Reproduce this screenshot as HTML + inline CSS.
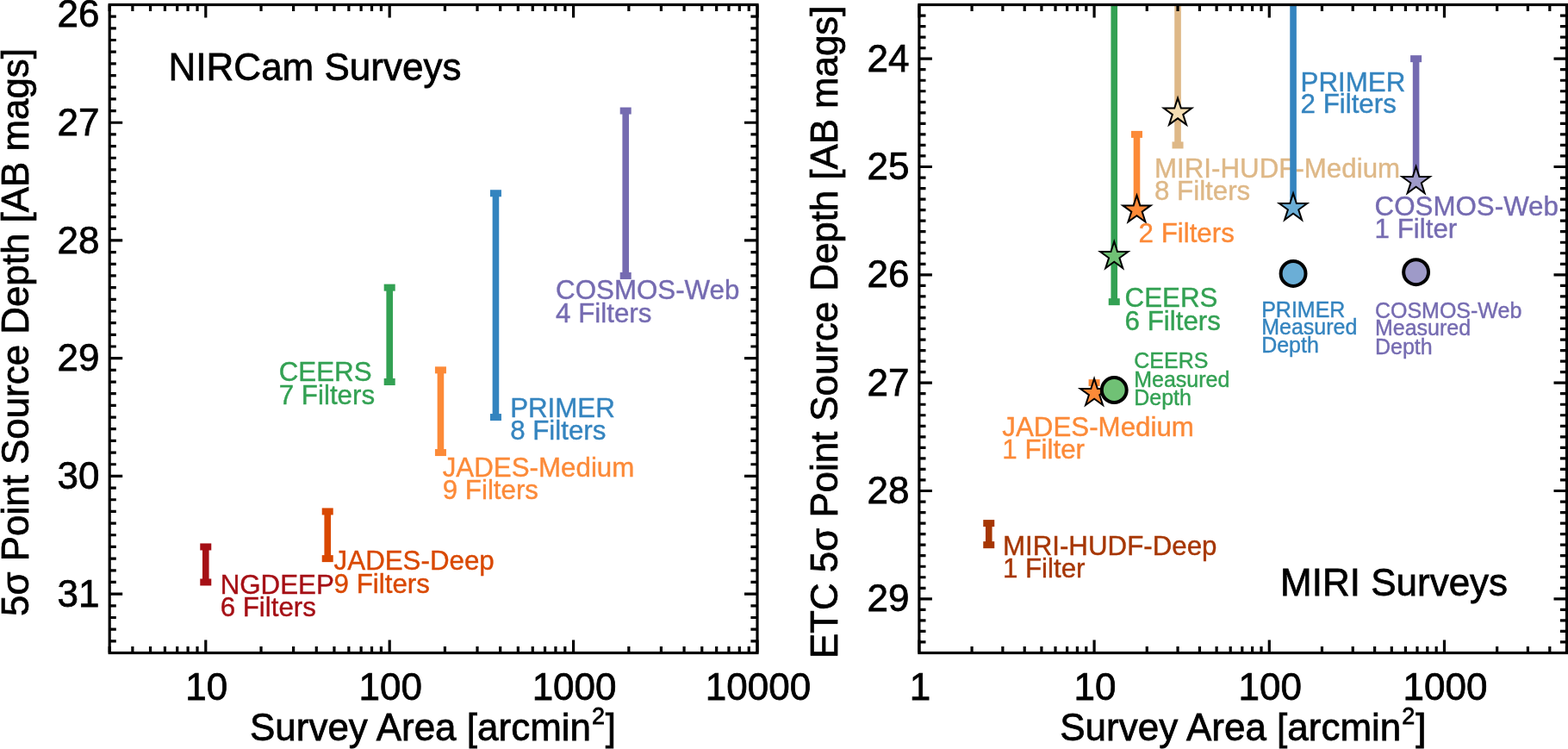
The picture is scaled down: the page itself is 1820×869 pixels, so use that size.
<!DOCTYPE html>
<html lang="en">
<head>
<meta charset="utf-8">
<title>NIRCam and MIRI Surveys</title>
<style>html,body{margin:0;padding:0;background:#fff;overflow:hidden}svg{display:block}</style>
</head>
<body>
<svg width="1820" height="869" viewBox="0 0 1820 869" font-family='"Liberation Sans", "DejaVu Sans", sans-serif'>
<rect width="1820" height="869" fill="#fff"/>
<rect x="234.98" y="634.45" width="7.6" height="41.02" fill="#a50f15"/>
<rect x="232.28" y="630.45" width="13.0" height="8.0" fill="#a50f15"/>
<rect x="232.28" y="671.46" width="13.0" height="8.0" fill="#a50f15"/>
<rect x="376.42" y="593.43" width="7.6" height="54.69" fill="#d94801"/>
<rect x="373.72" y="589.43" width="13.0" height="8.0" fill="#d94801"/>
<rect x="373.72" y="644.12" width="13.0" height="8.0" fill="#d94801"/>
<rect x="448.39" y="333.65" width="7.6" height="109.38" fill="#33a153"/>
<rect x="445.69" y="329.65" width="13.0" height="8.0" fill="#33a153"/>
<rect x="445.69" y="439.03" width="13.0" height="8.0" fill="#33a153"/>
<rect x="507.63" y="429.35" width="7.6" height="95.71" fill="#fc8a38"/>
<rect x="504.93" y="425.35" width="13.0" height="8.0" fill="#fc8a38"/>
<rect x="504.93" y="521.06" width="13.0" height="8.0" fill="#fc8a38"/>
<rect x="571.63" y="224.26" width="7.6" height="259.78" fill="#3484bf"/>
<rect x="568.93" y="220.26" width="13.0" height="8.0" fill="#3484bf"/>
<rect x="568.93" y="480.05" width="13.0" height="8.0" fill="#3484bf"/>
<rect x="722.40" y="128.55" width="7.6" height="191.42" fill="#756bb1"/>
<rect x="719.70" y="124.55" width="13.0" height="8.0" fill="#756bb1"/>
<rect x="719.70" y="315.97" width="13.0" height="8.0" fill="#756bb1"/>
<path d="M127.20 5.50v7.6M127.20 757.50v-7.6M153.86 5.50v7.6M153.86 757.50v-7.6M174.54 5.50v7.6M174.54 757.50v-7.6M191.44 5.50v7.6M191.44 757.50v-7.6M205.73 5.50v7.6M205.73 757.50v-7.6M218.10 5.50v7.6M218.10 757.50v-7.6M229.02 5.50v7.6M229.02 757.50v-7.6M238.78 5.50v15.0M238.78 757.50v-15.0M303.03 5.50v7.6M303.03 757.50v-7.6M340.61 5.50v7.6M340.61 757.50v-7.6M367.27 5.50v7.6M367.27 757.50v-7.6M387.95 5.50v7.6M387.95 757.50v-7.6M404.85 5.50v7.6M404.85 757.50v-7.6M419.13 5.50v7.6M419.13 757.50v-7.6M431.51 5.50v7.6M431.51 757.50v-7.6M442.43 5.50v7.6M442.43 757.50v-7.6M452.19 5.50v15.0M452.19 757.50v-15.0M516.43 5.50v7.6M516.43 757.50v-7.6M554.01 5.50v7.6M554.01 757.50v-7.6M580.67 5.50v7.6M580.67 757.50v-7.6M601.35 5.50v7.6M601.35 757.50v-7.6M618.25 5.50v7.6M618.25 757.50v-7.6M632.54 5.50v7.6M632.54 757.50v-7.6M644.91 5.50v7.6M644.91 757.50v-7.6M655.83 5.50v7.6M655.83 757.50v-7.6M665.59 5.50v15.0M665.59 757.50v-15.0M729.84 5.50v7.6M729.84 757.50v-7.6M767.42 5.50v7.6M767.42 757.50v-7.6M794.08 5.50v7.6M794.08 757.50v-7.6M814.76 5.50v7.6M814.76 757.50v-7.6M831.66 5.50v7.6M831.66 757.50v-7.6M845.94 5.50v7.6M845.94 757.50v-7.6M858.32 5.50v7.6M858.32 757.50v-7.6M869.24 5.50v7.6M869.24 757.50v-7.6M879.00 5.50v15.0M879.00 757.50v-15.0M127.20 5.50h15.0M879.00 5.50h-15.0M127.20 19.17h7.6M879.00 19.17h-7.6M127.20 32.85h7.6M879.00 32.85h-7.6M127.20 46.52h7.6M879.00 46.52h-7.6M127.20 60.19h7.6M879.00 60.19h-7.6M127.20 73.86h7.6M879.00 73.86h-7.6M127.20 87.54h7.6M879.00 87.54h-7.6M127.20 101.21h7.6M879.00 101.21h-7.6M127.20 114.88h7.6M879.00 114.88h-7.6M127.20 128.55h7.6M879.00 128.55h-7.6M127.20 142.23h15.0M879.00 142.23h-15.0M127.20 155.90h7.6M879.00 155.90h-7.6M127.20 169.57h7.6M879.00 169.57h-7.6M127.20 183.25h7.6M879.00 183.25h-7.6M127.20 196.92h7.6M879.00 196.92h-7.6M127.20 210.59h7.6M879.00 210.59h-7.6M127.20 224.26h7.6M879.00 224.26h-7.6M127.20 237.94h7.6M879.00 237.94h-7.6M127.20 251.61h7.6M879.00 251.61h-7.6M127.20 265.28h7.6M879.00 265.28h-7.6M127.20 278.95h15.0M879.00 278.95h-15.0M127.20 292.63h7.6M879.00 292.63h-7.6M127.20 306.30h7.6M879.00 306.30h-7.6M127.20 319.97h7.6M879.00 319.97h-7.6M127.20 333.65h7.6M879.00 333.65h-7.6M127.20 347.32h7.6M879.00 347.32h-7.6M127.20 360.99h7.6M879.00 360.99h-7.6M127.20 374.66h7.6M879.00 374.66h-7.6M127.20 388.34h7.6M879.00 388.34h-7.6M127.20 402.01h7.6M879.00 402.01h-7.6M127.20 415.68h15.0M879.00 415.68h-15.0M127.20 429.35h7.6M879.00 429.35h-7.6M127.20 443.03h7.6M879.00 443.03h-7.6M127.20 456.70h7.6M879.00 456.70h-7.6M127.20 470.37h7.6M879.00 470.37h-7.6M127.20 484.05h7.6M879.00 484.05h-7.6M127.20 497.72h7.6M879.00 497.72h-7.6M127.20 511.39h7.6M879.00 511.39h-7.6M127.20 525.06h7.6M879.00 525.06h-7.6M127.20 538.74h7.6M879.00 538.74h-7.6M127.20 552.41h15.0M879.00 552.41h-15.0M127.20 566.08h7.6M879.00 566.08h-7.6M127.20 579.75h7.6M879.00 579.75h-7.6M127.20 593.43h7.6M879.00 593.43h-7.6M127.20 607.10h7.6M879.00 607.10h-7.6M127.20 620.77h7.6M879.00 620.77h-7.6M127.20 634.45h7.6M879.00 634.45h-7.6M127.20 648.12h7.6M879.00 648.12h-7.6M127.20 661.79h7.6M879.00 661.79h-7.6M127.20 675.46h7.6M879.00 675.46h-7.6M127.20 689.14h15.0M879.00 689.14h-15.0M127.20 702.81h7.6M879.00 702.81h-7.6M127.20 716.48h7.6M879.00 716.48h-7.6M127.20 730.15h7.6M879.00 730.15h-7.6M127.20 743.83h7.6M879.00 743.83h-7.6M127.20 757.50h7.6M879.00 757.50h-7.6" fill="none" stroke="#000" stroke-width="3.2"/>
<rect x="127.20" y="5.50" width="751.80" height="752.00" fill="none" stroke="#000" stroke-width="3.2"/>
<text transform="translate(195.59 92.80) scale(1 1.015)" font-size="44" fill="#000" stroke="#000" stroke-width="0.75" text-anchor="start">NIRCam Surveys</text>
<text transform="translate(255.63 689.00) scale(1 1.02)" font-size="31.3" fill="#a50f15" stroke="#a50f15" stroke-width="0.4" text-anchor="start">NGDEEP</text>
<text transform="translate(255.63 715.40) scale(1 1.02)" font-size="31.3" fill="#a50f15" stroke="#a50f15" stroke-width="0.4" text-anchor="start">6 Filters</text>
<text transform="translate(387.61 661.40) scale(1 1.02)" font-size="31.3" fill="#d94801" stroke="#d94801" stroke-width="0.4" text-anchor="start">JADES-Deep</text>
<text transform="translate(387.61 687.80) scale(1 1.02)" font-size="31.3" fill="#d94801" stroke="#d94801" stroke-width="0.4" text-anchor="start">9 Filters</text>
<text transform="translate(323.76 442.20) scale(1 1.02)" font-size="31.3" fill="#33a153" stroke="#33a153" stroke-width="0.4" text-anchor="start">CEERS</text>
<text transform="translate(323.76 468.65) scale(1 1.02)" font-size="31.3" fill="#33a153" stroke="#33a153" stroke-width="0.4" text-anchor="start">7 Filters</text>
<text transform="translate(513.71 552.85) scale(1 1.02)" font-size="31.3" fill="#fc8a38" stroke="#fc8a38" stroke-width="0.4" text-anchor="start">JADES-Medium</text>
<text transform="translate(513.71 578.85) scale(1 1.02)" font-size="31.3" fill="#fc8a38" stroke="#fc8a38" stroke-width="0.4" text-anchor="start">9 Filters</text>
<text transform="translate(592.13 483.70) scale(1 1.02)" font-size="31.3" fill="#3484bf" stroke="#3484bf" stroke-width="0.4" text-anchor="start">PRIMER</text>
<text transform="translate(592.13 510.00) scale(1 1.02)" font-size="31.3" fill="#3484bf" stroke="#3484bf" stroke-width="0.4" text-anchor="start">8 Filters</text>
<text transform="translate(645.06 347.30) scale(1 1.02)" font-size="31.3" fill="#756bb1" stroke="#756bb1" stroke-width="0.4" text-anchor="start">COSMOS-Web</text>
<text transform="translate(645.06 373.50) scale(1 1.02)" font-size="31.3" fill="#756bb1" stroke="#756bb1" stroke-width="0.4" text-anchor="start">4 Filters</text>
<text transform="translate(115.50 31.00) scale(1 1)" font-size="44" fill="#000" stroke="#000" stroke-width="0.75" text-anchor="end">26</text>
<text transform="translate(115.50 156.83) scale(1 1)" font-size="44" fill="#000" stroke="#000" stroke-width="0.75" text-anchor="end">27</text>
<text transform="translate(115.50 293.55) scale(1 1)" font-size="44" fill="#000" stroke="#000" stroke-width="0.75" text-anchor="end">28</text>
<text transform="translate(115.50 430.28) scale(1 1)" font-size="44" fill="#000" stroke="#000" stroke-width="0.75" text-anchor="end">29</text>
<text transform="translate(115.50 567.01) scale(1 1)" font-size="44" fill="#000" stroke="#000" stroke-width="0.75" text-anchor="end">30</text>
<text transform="translate(115.50 703.74) scale(1 1)" font-size="44" fill="#000" stroke="#000" stroke-width="0.75" text-anchor="end">31</text>
<text transform="translate(239.78 812.40) scale(1 1)" font-size="44" fill="#000" stroke="#000" stroke-width="0.75" text-anchor="middle">10</text>
<text transform="translate(453.19 812.40) scale(1 1)" font-size="44" fill="#000" stroke="#000" stroke-width="0.75" text-anchor="middle">100</text>
<text transform="translate(666.59 812.40) scale(1 1)" font-size="44" fill="#000" stroke="#000" stroke-width="0.75" text-anchor="middle">1000</text>
<text transform="translate(880.00 812.40) scale(1 1)" font-size="44" fill="#000" stroke="#000" stroke-width="0.75" text-anchor="middle">10000</text>
<text transform="translate(502.5 859.0) scale(1 1.015)" font-size="44" stroke="#000" stroke-width="0.75" text-anchor="middle">Survey Area [arcmin<tspan font-size="27" dx="1" dy="-18.6">2</tspan><tspan dx="0.8" dy="18.6">]</tspan></text>
<text transform="translate(32.5 385.45) rotate(-90) scale(0.9977 1.015)" font-size="44" stroke="#000" stroke-width="0.75" text-anchor="middle">5σ Point Source Depth [AB mags]</text>
<text transform="translate(1339.98 205.80) scale(1 1.02)" font-size="31.3" fill="#deb887" stroke="#deb887" stroke-width="0.4" text-anchor="start">MIRI-HUDF-Medium</text>
<text transform="translate(1339.98 232.10) scale(1 1.02)" font-size="31.3" fill="#deb887" stroke="#deb887" stroke-width="0.4" text-anchor="start">8 Filters</text>
<rect x="1289.44" y="5.50" width="7.6" height="344.67" fill="#33a153"/>
<rect x="1286.74" y="346.17" width="13.0" height="8.0" fill="#33a153"/>
<rect x="1315.68" y="155.90" width="7.6" height="87.73" fill="#fc8a38"/>
<rect x="1312.98" y="151.90" width="13.0" height="8.0" fill="#fc8a38"/>
<rect x="1312.98" y="239.63" width="13.0" height="8.0" fill="#fc8a38"/>
<rect x="1363.24" y="5.50" width="7.6" height="162.93" fill="#deb887"/>
<rect x="1360.54" y="164.43" width="13.0" height="8.0" fill="#deb887"/>
<rect x="1497.26" y="5.50" width="7.6" height="235.63" fill="#3484bf"/>
<rect x="1639.80" y="68.17" width="7.6" height="144.13" fill="#756bb1"/>
<rect x="1637.10" y="64.17" width="13.0" height="8.0" fill="#756bb1"/>
<rect x="1266.29" y="444.17" width="7.6" height="12.53" fill="#fc8a38"/>
<rect x="1263.59" y="440.17" width="13.0" height="8.0" fill="#fc8a38"/>
<rect x="1263.59" y="452.70" width="13.0" height="8.0" fill="#fc8a38"/>
<rect x="1143.96" y="607.10" width="7.6" height="25.07" fill="#a63603"/>
<rect x="1141.26" y="603.10" width="13.0" height="8.0" fill="#a63603"/>
<rect x="1141.26" y="628.17" width="13.0" height="8.0" fill="#a63603"/>
<path d="M1066.90 5.50v15.0M1066.90 757.50v-15.0M1128.07 5.50v7.6M1128.07 757.50v-7.6M1163.85 5.50v7.6M1163.85 757.50v-7.6M1189.23 5.50v7.6M1189.23 757.50v-7.6M1208.92 5.50v7.6M1208.92 757.50v-7.6M1225.01 5.50v7.6M1225.01 757.50v-7.6M1238.62 5.50v7.6M1238.62 757.50v-7.6M1250.40 5.50v7.6M1250.40 757.50v-7.6M1260.79 5.50v7.6M1260.79 757.50v-7.6M1270.09 5.50v15.0M1270.09 757.50v-15.0M1331.26 5.50v7.6M1331.26 757.50v-7.6M1367.04 5.50v7.6M1367.04 757.50v-7.6M1392.43 5.50v7.6M1392.43 757.50v-7.6M1412.12 5.50v7.6M1412.12 757.50v-7.6M1428.21 5.50v7.6M1428.21 757.50v-7.6M1441.81 5.50v7.6M1441.81 757.50v-7.6M1453.59 5.50v7.6M1453.59 757.50v-7.6M1463.99 5.50v7.6M1463.99 757.50v-7.6M1473.28 5.50v15.0M1473.28 757.50v-15.0M1534.45 5.50v7.6M1534.45 757.50v-7.6M1570.23 5.50v7.6M1570.23 757.50v-7.6M1595.62 5.50v7.6M1595.62 757.50v-7.6M1615.31 5.50v7.6M1615.31 757.50v-7.6M1631.40 5.50v7.6M1631.40 757.50v-7.6M1645.00 5.50v7.6M1645.00 757.50v-7.6M1656.78 5.50v7.6M1656.78 757.50v-7.6M1667.18 5.50v7.6M1667.18 757.50v-7.6M1676.48 5.50v15.0M1676.48 757.50v-15.0M1737.64 5.50v7.6M1737.64 757.50v-7.6M1773.42 5.50v7.6M1773.42 757.50v-7.6M1798.81 5.50v7.6M1798.81 757.50v-7.6M1818.50 5.50v7.6M1818.50 757.50v-7.6M1066.90 5.50h7.6M1818.50 5.50h-7.6M1066.90 18.03h7.6M1818.50 18.03h-7.6M1066.90 30.57h7.6M1818.50 30.57h-7.6M1066.90 43.10h7.6M1818.50 43.10h-7.6M1066.90 55.63h7.6M1818.50 55.63h-7.6M1066.90 68.17h15.0M1818.50 68.17h-15.0M1066.90 80.70h7.6M1818.50 80.70h-7.6M1066.90 93.23h7.6M1818.50 93.23h-7.6M1066.90 105.77h7.6M1818.50 105.77h-7.6M1066.90 118.30h7.6M1818.50 118.30h-7.6M1066.90 130.83h7.6M1818.50 130.83h-7.6M1066.90 143.37h7.6M1818.50 143.37h-7.6M1066.90 155.90h7.6M1818.50 155.90h-7.6M1066.90 168.43h7.6M1818.50 168.43h-7.6M1066.90 180.97h7.6M1818.50 180.97h-7.6M1066.90 193.50h15.0M1818.50 193.50h-15.0M1066.90 206.03h7.6M1818.50 206.03h-7.6M1066.90 218.57h7.6M1818.50 218.57h-7.6M1066.90 231.10h7.6M1818.50 231.10h-7.6M1066.90 243.63h7.6M1818.50 243.63h-7.6M1066.90 256.17h7.6M1818.50 256.17h-7.6M1066.90 268.70h7.6M1818.50 268.70h-7.6M1066.90 281.23h7.6M1818.50 281.23h-7.6M1066.90 293.77h7.6M1818.50 293.77h-7.6M1066.90 306.30h7.6M1818.50 306.30h-7.6M1066.90 318.83h15.0M1818.50 318.83h-15.0M1066.90 331.37h7.6M1818.50 331.37h-7.6M1066.90 343.90h7.6M1818.50 343.90h-7.6M1066.90 356.43h7.6M1818.50 356.43h-7.6M1066.90 368.97h7.6M1818.50 368.97h-7.6M1066.90 381.50h7.6M1818.50 381.50h-7.6M1066.90 394.03h7.6M1818.50 394.03h-7.6M1066.90 406.57h7.6M1818.50 406.57h-7.6M1066.90 419.10h7.6M1818.50 419.10h-7.6M1066.90 431.63h7.6M1818.50 431.63h-7.6M1066.90 444.17h15.0M1818.50 444.17h-15.0M1066.90 456.70h7.6M1818.50 456.70h-7.6M1066.90 469.23h7.6M1818.50 469.23h-7.6M1066.90 481.77h7.6M1818.50 481.77h-7.6M1066.90 494.30h7.6M1818.50 494.30h-7.6M1066.90 506.83h7.6M1818.50 506.83h-7.6M1066.90 519.37h7.6M1818.50 519.37h-7.6M1066.90 531.90h7.6M1818.50 531.90h-7.6M1066.90 544.43h7.6M1818.50 544.43h-7.6M1066.90 556.97h7.6M1818.50 556.97h-7.6M1066.90 569.50h15.0M1818.50 569.50h-15.0M1066.90 582.03h7.6M1818.50 582.03h-7.6M1066.90 594.57h7.6M1818.50 594.57h-7.6M1066.90 607.10h7.6M1818.50 607.10h-7.6M1066.90 619.63h7.6M1818.50 619.63h-7.6M1066.90 632.17h7.6M1818.50 632.17h-7.6M1066.90 644.70h7.6M1818.50 644.70h-7.6M1066.90 657.23h7.6M1818.50 657.23h-7.6M1066.90 669.77h7.6M1818.50 669.77h-7.6M1066.90 682.30h7.6M1818.50 682.30h-7.6M1066.90 694.83h15.0M1818.50 694.83h-15.0M1066.90 707.37h7.6M1818.50 707.37h-7.6M1066.90 719.90h7.6M1818.50 719.90h-7.6M1066.90 732.43h7.6M1818.50 732.43h-7.6M1066.90 744.97h7.6M1818.50 744.97h-7.6M1066.90 757.50h7.6M1818.50 757.50h-7.6" fill="none" stroke="#000" stroke-width="3.2"/>
<rect x="1066.90" y="5.50" width="751.60" height="752.00" fill="none" stroke="#000" stroke-width="3.2"/>
<polygon points="1293.24,280.28 1297.06,292.02 1309.41,292.02 1299.42,299.28 1303.24,311.03 1293.24,303.77 1283.25,311.03 1287.07,299.28 1277.08,292.02 1289.43,292.02" fill="#70c175" stroke="#000" stroke-width="2.0" stroke-linejoin="miter" stroke-miterlimit="10"/>
<polygon points="1319.48,226.63 1323.29,238.38 1335.64,238.38 1325.65,245.64 1329.47,257.39 1319.48,250.13 1309.48,257.39 1313.30,245.64 1303.31,238.38 1315.66,238.38" fill="#fc8a38" stroke="#000" stroke-width="2.0" stroke-linejoin="miter" stroke-miterlimit="10"/>
<polygon points="1367.04,113.83 1370.86,125.58 1383.21,125.58 1373.21,132.84 1377.03,144.59 1367.04,137.33 1357.05,144.59 1360.86,132.84 1350.87,125.58 1363.22,125.58" fill="#f5deb3" stroke="#000" stroke-width="2.0" stroke-linejoin="miter" stroke-miterlimit="10"/>
<polygon points="1501.06,224.25 1504.88,236.00 1517.23,236.00 1507.24,243.26 1511.06,255.01 1501.06,247.75 1491.07,255.01 1494.89,243.26 1484.90,236.00 1497.25,236.00" fill="#6baed6" stroke="#000" stroke-width="2.0" stroke-linejoin="miter" stroke-miterlimit="10"/>
<polygon points="1643.60,193.29 1647.42,205.04 1659.77,205.04 1649.78,212.30 1653.59,224.05 1643.60,216.79 1633.61,224.05 1637.43,212.30 1627.43,205.04 1639.79,205.04" fill="#9e9ac8" stroke="#000" stroke-width="2.0" stroke-linejoin="miter" stroke-miterlimit="10"/>
<polygon points="1270.09,439.20 1273.91,450.95 1286.26,450.95 1276.27,458.21 1280.08,469.95 1270.09,462.69 1260.10,469.95 1263.92,458.21 1253.92,450.95 1266.27,450.95" fill="#fc8a38" stroke="#000" stroke-width="2.0" stroke-linejoin="miter" stroke-miterlimit="10"/>
<circle cx="1293.24" cy="452.56" r="14.45" fill="#70c175" stroke="#000" stroke-width="4.0"/>
<circle cx="1501.06" cy="317.45" r="14.45" fill="#6baed6" stroke="#000" stroke-width="4.0"/>
<circle cx="1643.60" cy="315.70" r="14.45" fill="#9e9ac8" stroke="#000" stroke-width="4.0"/>
<text transform="translate(1509.53 105.55) scale(1 1.02)" font-size="31.3" fill="#3484bf" stroke="#3484bf" stroke-width="0.4" text-anchor="start">PRIMER</text>
<text transform="translate(1509.53 131.20) scale(1 1.02)" font-size="31.3" fill="#3484bf" stroke="#3484bf" stroke-width="0.4" text-anchor="start">2 Filters</text>
<text transform="translate(1321.53 281.05) scale(1 1.02)" font-size="31.3" fill="#fc8a38" stroke="#fc8a38" stroke-width="0.4" text-anchor="start">2 Filters</text>
<text transform="translate(1305.61 356.30) scale(1 1.02)" font-size="31.3" fill="#33a153" stroke="#33a153" stroke-width="0.4" text-anchor="start">CEERS</text>
<text transform="translate(1305.61 382.55) scale(1 1.02)" font-size="31.3" fill="#33a153" stroke="#33a153" stroke-width="0.4" text-anchor="start">6 Filters</text>
<text transform="translate(1595.61 249.95) scale(1 1.02)" font-size="31.3" fill="#756bb1" stroke="#756bb1" stroke-width="0.4" text-anchor="start">COSMOS-Web</text>
<text transform="translate(1595.61 276.20) scale(1 1.02)" font-size="31.3" fill="#756bb1" stroke="#756bb1" stroke-width="0.4" text-anchor="start">1 Filter</text>
<text transform="translate(1163.31 506.45) scale(1 1.02)" font-size="31.3" fill="#fc8a38" stroke="#fc8a38" stroke-width="0.4" text-anchor="start">JADES-Medium</text>
<text transform="translate(1163.31 532.30) scale(1 1.02)" font-size="31.3" fill="#fc8a38" stroke="#fc8a38" stroke-width="0.4" text-anchor="start">1 Filter</text>
<text transform="translate(1163.88 643.95) scale(1 1.02)" font-size="31.3" fill="#a63603" stroke="#a63603" stroke-width="0.4" text-anchor="start">MIRI-HUDF-Deep</text>
<text transform="translate(1163.88 670.20) scale(1 1.02)" font-size="31.3" fill="#a63603" stroke="#a63603" stroke-width="0.4" text-anchor="start">1 Filter</text>
<text transform="translate(1464.15 367.70) scale(1 1.02)" font-size="25" fill="#3484bf" stroke="#3484bf" stroke-width="0.4" text-anchor="start">PRIMER</text>
<text transform="translate(1464.15 388.20) scale(1 1.02)" font-size="25" fill="#3484bf" stroke="#3484bf" stroke-width="0.4" text-anchor="start">Measured</text>
<text transform="translate(1464.15 409.15) scale(1 1.02)" font-size="25" fill="#3484bf" stroke="#3484bf" stroke-width="0.4" text-anchor="start">Depth</text>
<text transform="translate(1595.93 368.75) scale(1 1.02)" font-size="25" fill="#756bb1" stroke="#756bb1" stroke-width="0.4" text-anchor="start">COSMOS-Web</text>
<text transform="translate(1595.93 389.30) scale(1 1.02)" font-size="25" fill="#756bb1" stroke="#756bb1" stroke-width="0.4" text-anchor="start">Measured</text>
<text transform="translate(1595.93 410.65) scale(1 1.02)" font-size="25" fill="#756bb1" stroke="#756bb1" stroke-width="0.4" text-anchor="start">Depth</text>
<text transform="translate(1316.23 427.40) scale(1 1.02)" font-size="25" fill="#33a153" stroke="#33a153" stroke-width="0.4" text-anchor="start">CEERS</text>
<text transform="translate(1316.23 448.80) scale(1 1.02)" font-size="25" fill="#33a153" stroke="#33a153" stroke-width="0.4" text-anchor="start">Measured</text>
<text transform="translate(1316.23 469.60) scale(1 1.02)" font-size="25" fill="#33a153" stroke="#33a153" stroke-width="0.4" text-anchor="start">Depth</text>
<text transform="translate(1486.09 691.40) scale(1 1.015)" font-size="44" fill="#000" stroke="#000" stroke-width="0.75" text-anchor="start">MIRI Surveys</text>
<text transform="translate(1055.50 82.77) scale(1 1)" font-size="44" fill="#000" stroke="#000" stroke-width="0.75" text-anchor="end">24</text>
<text transform="translate(1055.50 208.10) scale(1 1)" font-size="44" fill="#000" stroke="#000" stroke-width="0.75" text-anchor="end">25</text>
<text transform="translate(1055.50 333.43) scale(1 1)" font-size="44" fill="#000" stroke="#000" stroke-width="0.75" text-anchor="end">26</text>
<text transform="translate(1055.50 458.77) scale(1 1)" font-size="44" fill="#000" stroke="#000" stroke-width="0.75" text-anchor="end">27</text>
<text transform="translate(1055.50 584.10) scale(1 1)" font-size="44" fill="#000" stroke="#000" stroke-width="0.75" text-anchor="end">28</text>
<text transform="translate(1055.50 709.43) scale(1 1)" font-size="44" fill="#000" stroke="#000" stroke-width="0.75" text-anchor="end">29</text>
<text transform="translate(1067.90 812.40) scale(1 1)" font-size="44" fill="#000" stroke="#000" stroke-width="0.75" text-anchor="middle">1</text>
<text transform="translate(1271.09 812.40) scale(1 1)" font-size="44" fill="#000" stroke="#000" stroke-width="0.75" text-anchor="middle">10</text>
<text transform="translate(1474.28 812.40) scale(1 1)" font-size="44" fill="#000" stroke="#000" stroke-width="0.75" text-anchor="middle">100</text>
<text transform="translate(1677.48 812.40) scale(1 1)" font-size="44" fill="#000" stroke="#000" stroke-width="0.75" text-anchor="middle">1000</text>
<text transform="translate(1442.8 859.0) scale(1 1.015)" font-size="44" stroke="#000" stroke-width="0.75" text-anchor="middle">Survey Area [arcmin<tspan font-size="27" dx="1" dy="-18.6">2</tspan><tspan dx="0.8" dy="18.6">]</tspan></text>
<text transform="translate(971.6 385.3) rotate(-90) scale(0.9957 1.015)" font-size="44" stroke="#000" stroke-width="0.75" text-anchor="middle">ETC 5σ Point Source Depth [AB mags]</text>
</svg>
</body>
</html>
